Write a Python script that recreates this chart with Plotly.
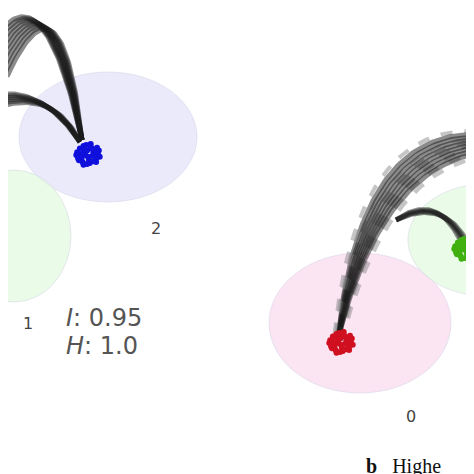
import numpy as np
import plotly.graph_objects as go

# cluster point offsets (pixels, read approximately)
off_x = [-12,-9,-7,-5,-3,-1,1,3,5,7,9,11,13,-10,-6,-2,2,6,10,-8,-4,0,4,8,-11,-5,3,9,-1,6,12,-13]
off_y = [-2,-6,4,-9,1,-4,6,-8,2,-5,5,-1,3,7,9,-10,10,8,-7,0,-3,3,-6,1,5,12,-11,9,11,-2,-4,1]
clusters = {"blue": (80, 146, "#1010dd"), "red": (333, 334, "#d01020"), "green": (458, 240, "#40b010")}

# ellipses: cx, cy, rx, ry, fill
ellipses = [(100, 129, 89, 65, "rgba(225,225,248,0.7)"),
            (6, 228, 57, 66, "rgba(225,250,222,0.7)"),
            (352, 315, 91, 70, "rgba(250,222,240,0.8)"),
            (478, 232, 78, 56, "rgba(225,250,222,0.7)")]

# trajectory bundles: start, control, end points (pixels), offsets per strand
bundles = [((74, 132), (40, -60), (-15, 60), [-10,-7,-4,-1,2,5,8,11,14]),
           ((72, 134), (40, 80), (-10, 92), [-7,-4,-1,2,5,8]),
           ((330, 330), (365, 130), (485, 135), [-14,-10,-6,-2,2,6,10,14]),
           ((388, 212), (432, 186), (456, 234), [-4,-1,2,5])]

fig = go.Figure()
shapes = []
for cx, cy, rx, ry, c in ellipses:
    shapes.append(dict(type="circle", xref="x", yref="y", x0=cx-rx, x1=cx+rx, y0=cy-ry, y1=cy+ry,
                       fillcolor=c, line=dict(color="rgba(210,210,230,0.5)", width=1), layer="below"))

t = np.linspace(0, 1, 80)
for bi, (p0, p1, p2, offs) in enumerate(bundles):
    for k, o in enumerate(offs):
        x = (1-t)**2*p0[0] + 2*(1-t)*t*(p1[0]+o) + t**2*(p2[0]+o)
        y = (1-t)**2*p0[1] + 2*(1-t)*t*(p1[1]+o*0.6) + t**2*(p2[1]+o*0.6)
        if bi == 2:
            fig.add_trace(go.Scatter(x=x + o*0.25, y=y + o*0.25, mode="lines", hoverinfo="skip",
                                     line=dict(color="rgba(140,140,140,0.5)", width=4, dash="dash")))
        fig.add_trace(go.Scatter(x=x, y=y, mode="lines", hoverinfo="skip",
                                 line=dict(color="rgba(25,25,25,0.5)", width=5)))

for name, (cx, cy, col) in clusters.items():
    fig.add_trace(go.Scatter(x=[cx+a*0.9 for a in off_x], y=[cy+b*0.9 for b in off_y], mode="markers",
                             marker=dict(color=col, size=6), hoverinfo="skip"))

texts = [(148, 220, "2", 16, "DejaVu Sans", "#444", "center"),
         (20, 315, "1", 16, "DejaVu Sans", "#444", "center"),
         (403, 408, "0", 16, "DejaVu Sans", "#444", "center"),
         (56, 310, "<i>I</i>: 0.95", 24, "DejaVu Sans", "#555", "left"),
         (56, 338, "<i>H</i>: 1.0", 24, "DejaVu Sans", "#555", "left"),
         (-2, 458, "transition <i>I</i>.", 20, "Liberation Serif", "#111", "left"),
         (356, 458, "<b>b</b>   Highe", 20, "Liberation Serif", "#111", "left")]
for x, y, s, sz, f, c, xa in texts:
    fig.add_annotation(x=x, y=y, text=s, showarrow=False, xanchor=xa,
                       yanchor="middle", font=dict(size=sz, family=f, color=c))

fig.update_layout(width=474, height=474, margin=dict(l=0, r=0, t=0, b=0), showlegend=False,
                  plot_bgcolor="white", paper_bgcolor="white", shapes=shapes,
                  xaxis=dict(range=[0, 474], visible=False),
                  yaxis=dict(range=[474, 0], visible=False))
fig.write_html("out.html")
